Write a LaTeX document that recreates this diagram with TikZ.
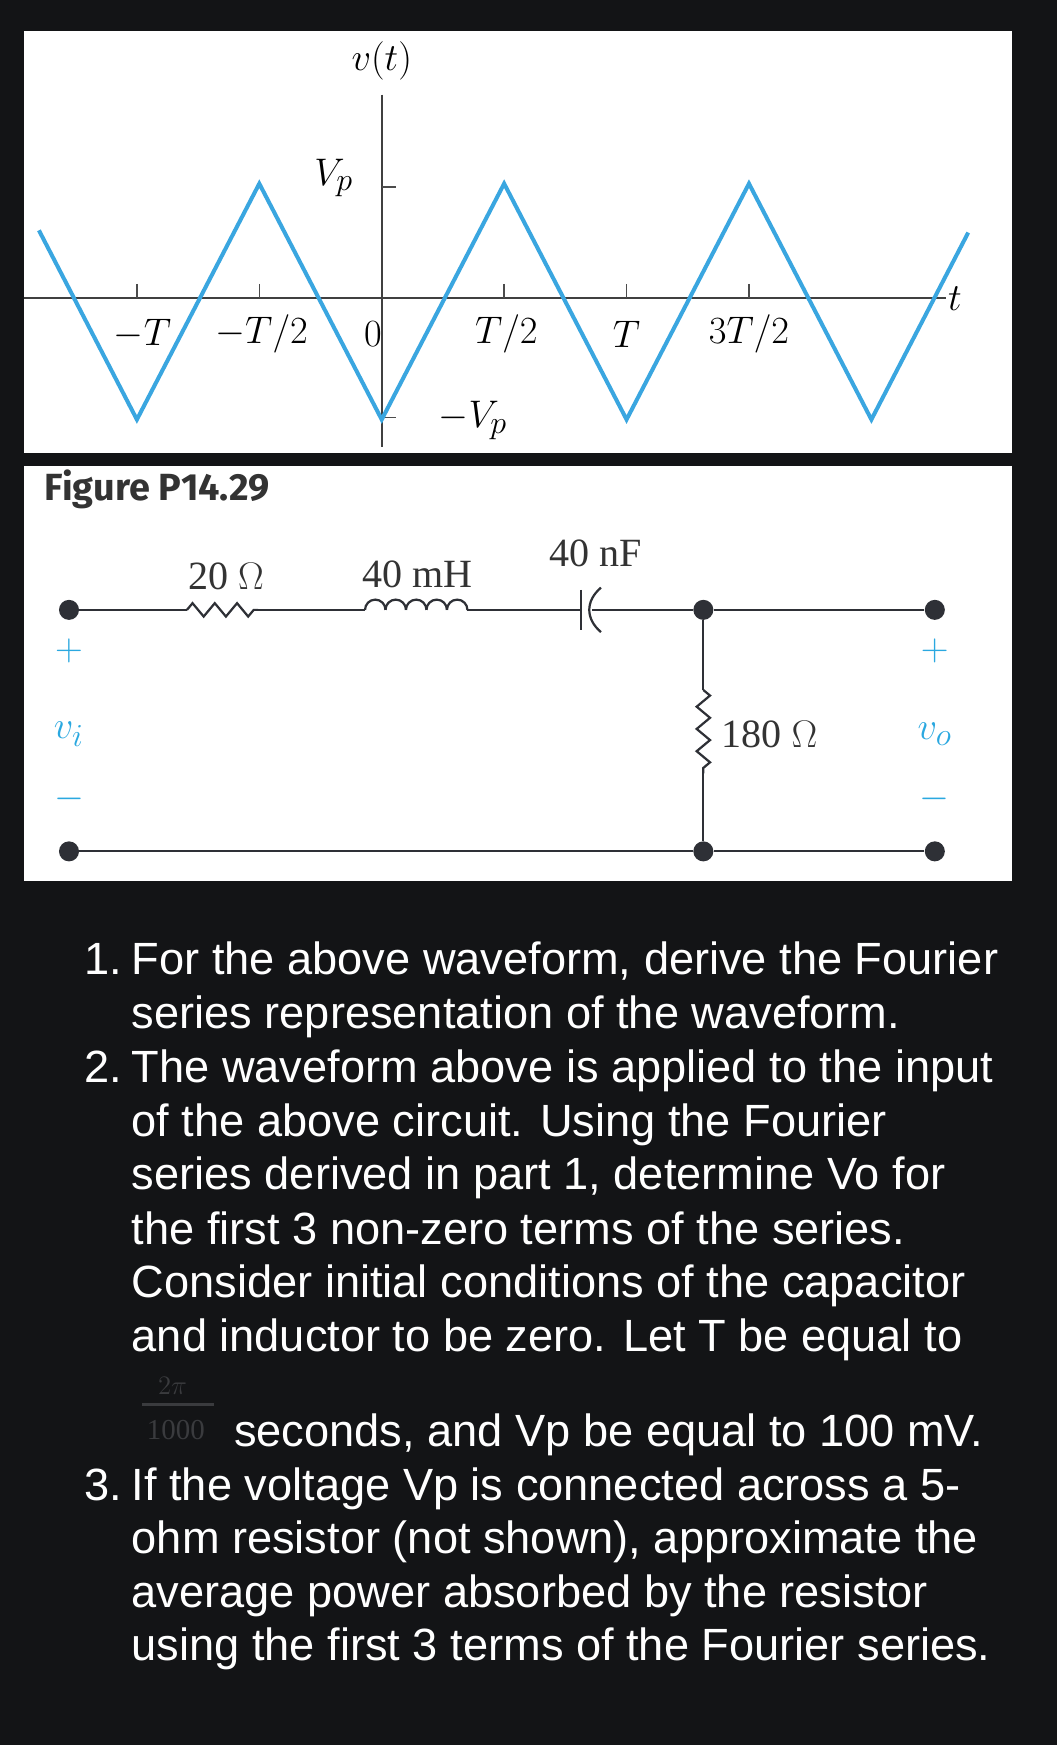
\documentclass[tikz,border=0pt]{standalone}
\usepackage{fontspec}
\setmainfont{Liberation Serif}
\newfontfamily\qfont{Liberation Sans}
\newfontfamily\figfont{Fira Sans}
\usetikzlibrary{decorations.pathmorphing,calc}
\definecolor{bg}{HTML}{131416}
\definecolor{wave}{HTML}{3AA6E0}
\definecolor{cyanl}{HTML}{2AA8E0}
\definecolor{wire}{HTML}{2E3036}
\definecolor{frac}{HTML}{3A3B3E}
\tikzset{
 lbl/.style={font=\fontsize{19}{19}\selectfont\itshape, text=black, inner sep=0pt},
 clbl/.style={font=\fontsize{18}{18}\selectfont, text=black!80, inner sep=0pt},
 q/.style={font=\qfont\fontsize{20.3}{20.3}\selectfont, text=white, anchor=base west, inner sep=0pt},
 dot/.style={circle, fill=wire, inner sep=0pt, minimum size=9pt},
 tick/.style={draw=black!70, line width=0.6pt},
}
\begin{document}
\begin{tikzpicture}[x=0.5pt,y=-0.5pt]
\fill[bg] (0,0) rectangle (950,1568);
\useasboundingbox (0,0) rectangle (950,1568);
\fill[white] (22,28) rectangle (909,407);
\fill[white] (22,419) rectangle (909,792);
% waveform axes
\draw[black!75, line width=0.7pt] (22,268) -- (850,268);
\draw[black!75, line width=0.7pt] (343,85) -- (343,402);
\node[lbl] (t) at (858,268) {$t$};
\node[lbl] (vt) at (343,55) {$v(t)$};
\draw[tick] (343,168) -- (356,168);
\draw[tick] (343,375) -- (356,375);
\node[lbl] (vp) at (300,160) {$V_p$};
\node[lbl] (mvp) at (425,378) {$-V_p$};
\foreach \x in {123,233,453,563,673} \draw[tick] (\x,255) -- (\x,268);
\node[lbl] (l1) at (128,300) {$-T$};
\node[lbl] (l2) at (235,300) {$-T/2$};
\node[lbl] (l3) at (335,300) {$0$};
\node[lbl] (l4) at (455,300) {$T/2$};
\node[lbl] (l5) at (563,300) {$T$};
\node[lbl] (l6) at (673,300) {$3T/2$};
\draw[wave, line width=1.8pt, line join=miter] (35,207) -- (123,377) -- (233,165) -- (343,377) -- (453,165) -- (563,377) -- (673,165) -- (783,377) -- (870,209);
% figure label
\node[font=\figfont\bfseries\fontsize{17}{17}\selectfont, text=black!80, anchor=west, inner sep=0pt] (fig) at (40,440) {Figure P14.29};
% circuit
\node[dot] (a) at (62,548) {};
\node[dot] (b) at (840,548) {};
\node[dot] (c) at (632,548) {};
\node[dot] (d) at (62,765) {};
\node[dot] (e) at (632,765) {};
\node[dot] (f) at (840,765) {};
\coordinate (r1a) at (168,548); \coordinate (r1b) at (232,548);
\coordinate (l1a) at (328,548); \coordinate (l1b) at (420,548);
\coordinate (c1a) at (522,548); \coordinate (c1b) at (532,548);
\coordinate (r2a) at (632,620); \coordinate (r2b) at (632,695);
\begin{scope}[wire, line width=1pt]
\draw (a) -- (r1a);
\draw[decorate, decoration={zigzag, segment length=10pt, amplitude=3pt}] (r1a) -- (r1b);
\draw (r1b) -- (l1a);
\foreach \i in {0,...,4} \draw ($(l1a)+(\i*18.4,0)$) arc[start angle=180, end angle=0, radius=4.6pt];
\draw (l1b) -- (c1a);
\draw (522,530) -- (522,566);
\draw (540,528) .. controls (526,540) and (526,556) .. (540,568);
\draw (c1b) -- (c) -- (b);
\draw (c) -- (r2a);
\draw[decorate, decoration={zigzag, segment length=10pt, amplitude=3pt}] (r2a) -- (r2b);
\draw (r2b) -- (e);
\draw (d) -- (e) -- (f);
\end{scope}
\node[clbl] (n1) at (203,518) {20 $\Omega$};
\node[clbl] (n2) at (375,516) {40 mH};
\node[clbl] (n3) at (535,497) {40 nF};
\node[clbl, anchor=west] (n4) at (648,660) {180 $\Omega$};
\node[font=\fontsize{18}{18}\selectfont, text=cyanl] (p1) at (62,585) {$+$};
\node[font=\fontsize{19}{19}\selectfont, text=cyanl] (p2) at (62,660) {$v_i$};
\node[font=\fontsize{18}{18}\selectfont, text=cyanl] (p3) at (62,718) {$-$};
\node[font=\fontsize{18}{18}\selectfont, text=cyanl] (p4) at (840,585) {$+$};
\node[font=\fontsize{19}{19}\selectfont, text=cyanl] (p5) at (840,660) {$v_o$};
\node[font=\fontsize{18}{18}\selectfont, text=cyanl] (p6) at (840,718) {$-$};
% questions
\node[q, anchor=base east] (n1q) at (110,876) {1.};
\node[q] (t1) at (118,876) {For the above waveform, derive the Fourier};
\node[q] (t2) at (118,924) {series representation of the waveform.};
\node[q, anchor=base east] (n2q) at (110,973) {2.};
\node[q] (t3) at (118,973) {The waveform above is applied to the input};
\node[q] (t4) at (118,1021) {of the above circuit. Using the Fourier};
\node[q] (t5) at (118,1069) {series derived in part 1, determine Vo for};
\node[q] (t6) at (118,1118) {the first 3 non-zero terms of the series.};
\node[q] (t7) at (118,1166) {Consider initial conditions of the capacitor};
\node[q] (t8) at (118,1214) {and inductor to be zero. Let T be equal to};
\node[font=\fontsize{13}{13}\selectfont, text=frac, inner sep=0pt] (fr1) at (155,1245) {$2\pi$};
\draw[frac, line width=1pt] (128,1262) -- (192,1262);
\node[font=\fontsize{13}{13}\selectfont, text=frac, inner sep=0pt] (fr2) at (158,1285) {1000};
\node[q] (t9) at (210,1300) {seconds, and Vp be equal to 100 mV.};
\node[q, anchor=base east] (n3q) at (110,1348) {3.};
\node[q] (t10) at (118,1348) {If the voltage Vp is connected across a 5-};
\node[q] (t11) at (118,1396) {ohm resistor (not shown), approximate the};
\node[q] (t12) at (118,1444) {average power absorbed by the resistor};
\node[q] (t13) at (118,1492) {using the first 3 terms of the Fourier series.};
\end{tikzpicture}
\end{document}
